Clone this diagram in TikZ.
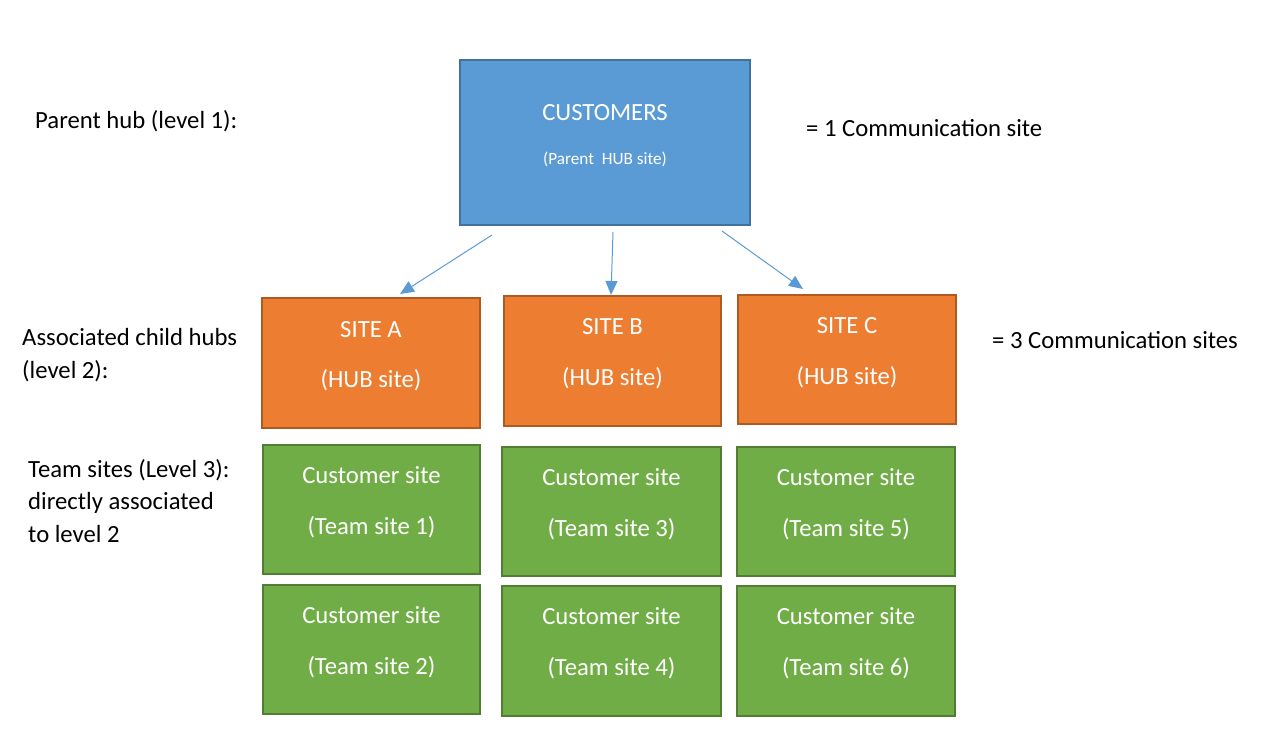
\documentclass[tikz,border=0pt]{standalone}
\usepackage{fontspec}
\setmainfont{Carlito}
\usetikzlibrary{arrows.meta,calc}
\definecolor{hubblue}{HTML}{5B9BD5}
\definecolor{hubblueline}{HTML}{41719C}
\definecolor{siteorange}{HTML}{ED7D31}
\definecolor{siteorangeline}{HTML}{AE5A21}
\definecolor{teamgreen}{HTML}{70AD47}
\definecolor{teamgreenline}{HTML}{507E32}
\definecolor{labeltext}{HTML}{000000}
\begin{document}
\begin{tikzpicture}[x=1pt,y=-1pt,
  boxbase/.style={rectangle, anchor=north west, line width=2pt, inner sep=0pt, outer sep=0pt},
  custbox/.style={boxbase, fill=hubblue, draw=hubblueline},
  hubbox/.style={boxbase, fill=siteorange, draw=siteorangeline},
  teambox/.style={boxbase, fill=teamgreen, draw=teamgreenline},
  intext/.style={text=white, anchor=base, inner sep=0pt, font=\fontsize{24.7}{29}\selectfont},
  smalltext/.style={text=white, anchor=base, inner sep=0pt, font=\fontsize{17.2}{20}\selectfont},
  sidetext/.style={text=labeltext, anchor=base west, inner sep=0pt, font=\fontsize{24.7}{33}\selectfont},
  link/.style={draw=hubblue, line width=1pt, -{Triangle[length=14pt,width=12pt]}}
]
\useasboundingbox (0,0) rectangle (1270,734);

% parent hub
\node[custbox, minimum width=290pt, minimum height=165pt] (cust) at (460,60) {};
\node[intext] (custt) at ($(cust.north)+(0,60)$) {CUSTOMERS};
\node[smalltext] (custs) at ($(cust.north)+(0,104)$) {(Parent\ \ HUB site)};

% child hubs
\node[hubbox, minimum width=218pt, minimum height=130pt] (sa) at (262,298) {};
\node[hubbox, minimum width=217pt, minimum height=130pt] (sb) at (504,296) {};
\node[hubbox, minimum width=218pt, minimum height=129pt] (sc) at (738,295) {};
\node[intext] (sat) at ($(sa.north)+(0,39)$) {SITE A};
\node[intext] (sas) at ($(sa.north)+(0,89)$) {(HUB site)};
\node[intext] (sbt) at ($(sb.north)+(0,38)$) {SITE B};
\node[intext] (sbs) at ($(sb.north)+(0,89)$) {(HUB site)};
\node[intext] (sct) at ($(sc.north)+(0,38)$) {SITE C};
\node[intext] (scs) at ($(sc.north)+(0,89)$) {(HUB site)};

% team sites
\node[teambox, minimum width=217pt, minimum height=129pt] (t1) at (263,445) {};
\node[teambox, minimum width=217pt, minimum height=129pt] (t2) at (263,585) {};
\node[teambox, minimum width=219pt, minimum height=129pt] (t3) at (502,447) {};
\node[teambox, minimum width=219pt, minimum height=130pt] (t4) at (502,586) {};
\node[teambox, minimum width=218pt, minimum height=129pt] (t5) at (737,447) {};
\node[teambox, minimum width=218pt, minimum height=130pt] (t6) at (737,586) {};
\foreach \t/\n in {t1/1,t2/2,t3/3,t4/4,t5/5,t6/6}{
  \node[intext] (\t a) at ($(\t.north)+(0,38)$) {Customer site};
  \node[intext] (\t b) at ($(\t.north)+(0,89)$) {(Team site \n)};
}

% connectors
\coordinate (s1) at (492,235);
\coordinate (e1) at (400,294);
\coordinate (s2) at (613,232);
\coordinate (e2) at (611,295);
\coordinate (s3) at (722,231);
\coordinate (e3) at (803,289);
\draw[link] (s1) -- (e1);
\draw[link] (s2) -- (e2);
\draw[link] (s3) -- (e3);

% side labels
\node[sidetext] (l1) at (35,128) {Parent hub (level 1):};
\node[sidetext] (l2a) at (22,345) {Associated child hubs};
\node[sidetext] (l2b) at (22,378) {(level 2):};
\node[sidetext] (l3a) at (28,477) {Team sites (Level 3):};
\node[sidetext] (l3b) at (28,509) {directly associated};
\node[sidetext] (l3c) at (28,542) {to level 2};
\node[sidetext] (r1) at (806,136) {= 1 Communication site};
\node[sidetext] (r2) at (992,348) {= 3 Communication sites};
\end{tikzpicture}
\end{document}
